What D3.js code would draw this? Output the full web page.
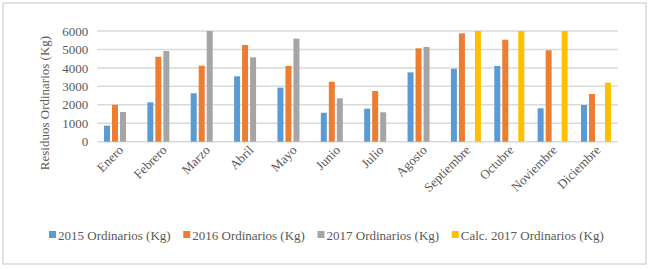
<!DOCTYPE html>
<html><head><meta charset="utf-8">
<script src="https://cdn.jsdelivr.net/npm/d3@7"></script>
<style>body{margin:0;background:#fff}svg{display:block}text{font-family:"Liberation Serif","Times New Roman",serif;fill:#595959}</style>
</head><body><svg id="c" width="650" height="269"></svg>
<script>
const months = ["Enero","Febrero","Marzo","Abril","Mayo","Junio","Julio","Agosto","Septiembre","Octubre","Noviembre","Diciembre"];
const seriesNames = ["2015 Ordinarios (Kg)","2016 Ordinarios (Kg)","2017 Ordinarios (Kg)","Calc. 2017 Ordinarios (Kg)"];
const seriesColors = ["#5B9BD5","#ED7D31","#A5A5A5","#FFC000"];
const v2015 = [870,2135,2625,3545,2930,1570,1790,3760,3955,4105,1810,1990];
const v2016 = [2000,4605,4120,5240,4105,3250,2750,5060,5875,5530,4955,2585];
const v2017 = [1610,4915,6000,4575,5585,2350,1595,5135,null,null,null,null];
const vCalc = [null,null,null,null,null,null,null,null,6000,6000,6000,3200];
const yTicks = [0,1000,2000,3000,4000,5000,6000];
const allSeries = [v2015,v2016,v2017,vCalc];

const svg = d3.select("#c");
svg.append("rect").attr("x",3).attr("y",3).attr("width",643).attr("height",261)
  .attr("fill","#fff").attr("stroke","#d9d9d9").attr("stroke-width",1.5);

const L=97.3,R=617.7,T=31,B=141.7;
const x = d3.scaleBand().domain(months).range([L,R]);
const xi = d3.scaleBand().domain(d3.range(4)).range([0,32]);
const y = d3.scaleLinear().domain([0,6000]).range([B,T]);

svg.append("g").selectAll("line").data(yTicks).join("line")
  .attr("x1",L).attr("x2",R).attr("y1",d=>y(d)).attr("y2",d=>y(d))
  .attr("stroke","#d9d9d9").attr("stroke-width",1.5);

const yAxis = d3.axisLeft(y).tickValues(yTicks).tickFormat(d3.format("d")).tickSize(0).tickPadding(9);
const ya = svg.append("g").attr("transform",`translate(${L},0)`).call(yAxis);
ya.select(".domain").remove();
ya.selectAll("text").style("font-size","13px").attr("fill","#595959").style("font-family","Liberation Serif");

allSeries.forEach((vals,si)=>{
  svg.append("g").selectAll("rect").data(months.map((m,i)=>({m,v:vals[i]})).filter(d=>d.v!=null)).join("rect")
    .attr("x",d=>x(d.m)+(x.bandwidth()-32)/2+xi(si)+1)
    .attr("width",6)
    .attr("y",d=>y(d.v)).attr("height",d=>B-y(d.v))
    .attr("fill",seriesColors[si]);
});

svg.append("g").selectAll("text").data(months).join("text")
  .attr("transform",d=>`translate(${x(d)+x.bandwidth()/2+2},${B+6}) rotate(-45)`)
  .attr("text-anchor","end").attr("dy","0.35em")
  .style("font-size","13px").text(d=>d);

svg.append("text").attr("transform","translate(49,103) rotate(-90)")
  .attr("text-anchor","middle").style("font-size","13px").text("Residuos Ordinarios (Kg)");

const lg = svg.append("g");
let lx = 49;
seriesNames.forEach((n,i)=>{
  const it = lg.append("g");
  it.append("rect").attr("x",lx).attr("y",231).attr("width",7).attr("height",7).attr("fill",seriesColors[i]);
  const t = it.append("text").attr("x",lx+9).attr("y",239.5).style("font-size","13px").text(n);
  lx += 9 + t.node().getComputedTextLength() + 12.6;
});
</script></body></html>
